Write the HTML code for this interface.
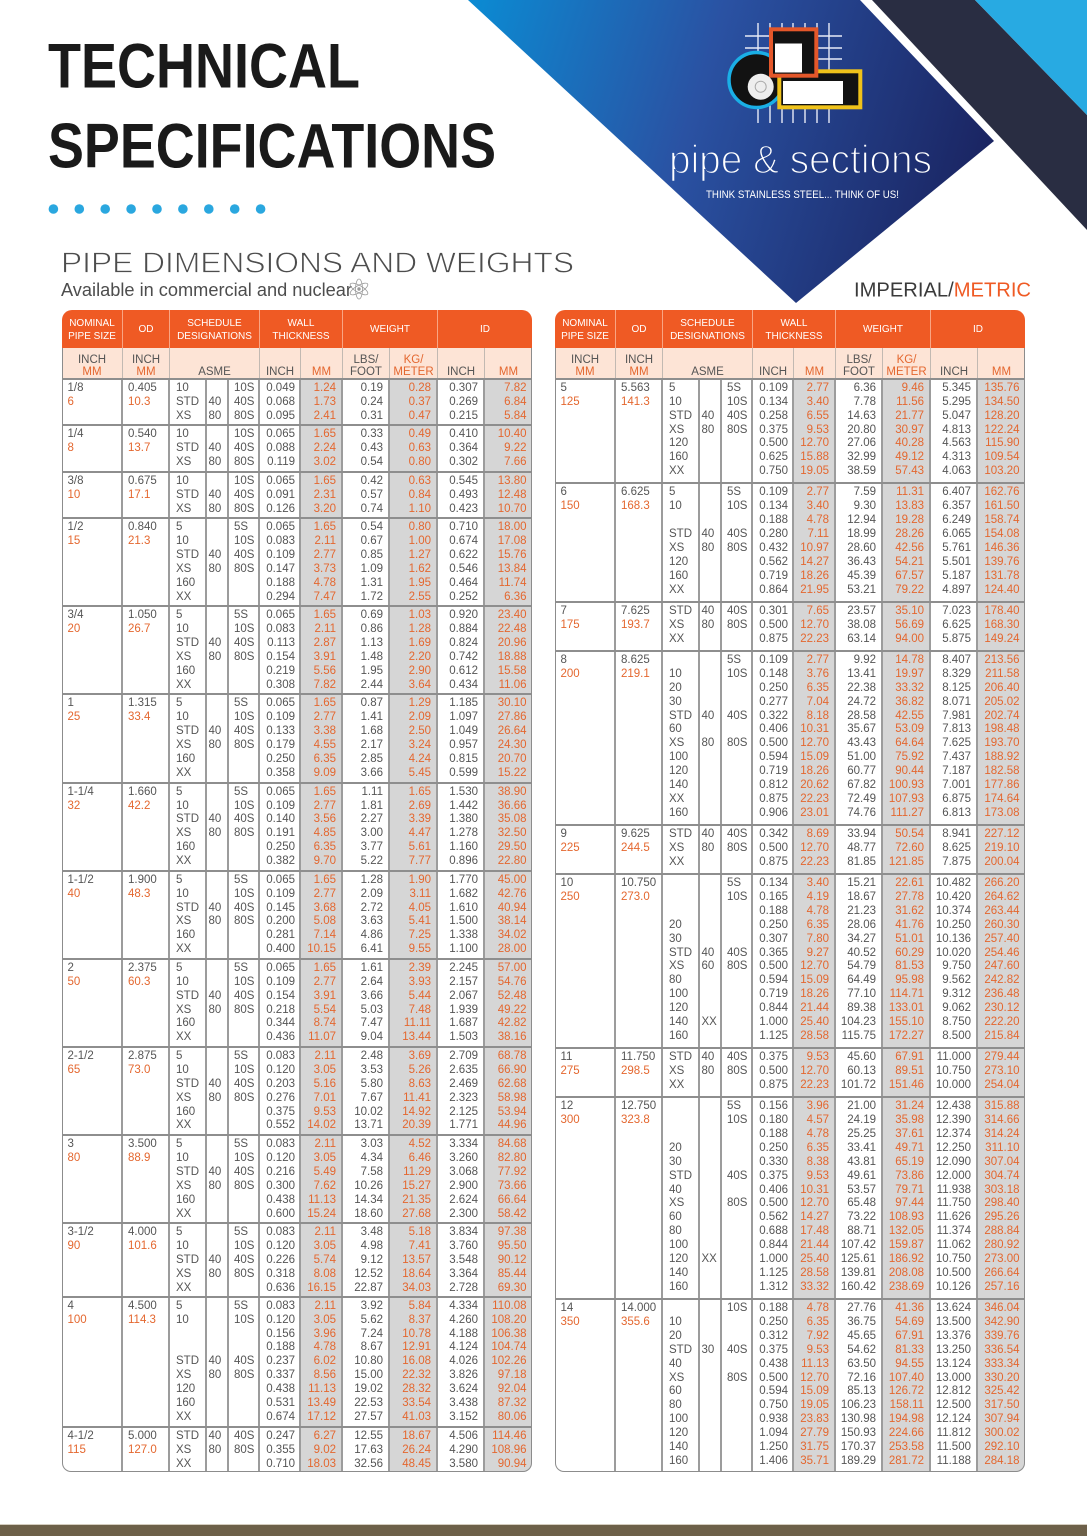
<!DOCTYPE html>
<html><head><meta charset="utf-8"><style>
*{margin:0;padding:0}
html,body{width:1087px;height:1536px;overflow:hidden;background:#fff}
body{position:relative;font-family:"Liberation Sans",Arial,sans-serif}
.t{position:absolute;top:310px;width:470px;height:1162.2px}
.hd{position:absolute;left:0;top:0;width:470px;height:38px;background:#ef5a24;border-radius:10px 10px 0 0}
.hd div{position:absolute;top:0;height:38px;padding-top:3px;box-sizing:border-box;display:flex;align-items:center;justify-content:center;text-align:center;color:#fff;font-size:10px;line-height:12.4px}
.hd div+div{border-left:1px solid rgba(255,215,195,.6)}
.sh{position:absolute;left:0;top:38px;width:470px;height:29.8px;background:#fde4d6}
.sh div{position:absolute;top:0;height:29.8px;padding-top:5.6px;box-sizing:border-box;text-align:center;font-size:11.5px;line-height:12.7px;color:#555}
.sh div+div{border-left:1px solid #c2b9b2}
em{font-style:normal;color:#e4672f}
.bd{position:absolute;top:67.8px;left:0;width:470px;height:1094.4px;overflow:hidden;border-radius:0 0 9px 9px}
.gr{position:absolute;top:0;height:100%;background:#d6d6d6}
.v{position:absolute;top:0;height:100%;width:1.2px;background:#9c9c9c;margin-left:-0.6px}
.g{position:absolute;left:0;width:470px;border-top:2px solid #8e8e8e}
.g div{position:absolute;top:2px;font-size:11.5px;line-height:13.9px;color:#555;white-space:nowrap}
.g .wm,.g .kg,.g .im{color:#e4672f}
.a{left:5.5px}.b{left:66px}.s1{left:114px}.s2{left:146.5px}.s3{left:172px}
.wi{right:237px;text-align:right}.wm{right:196px;text-align:right}.lb{right:149px;text-align:right}.kg{right:101px;text-align:right}.ii{right:54px;text-align:right}.im{right:5.5px;text-align:right}
.ob{position:absolute;left:0;top:38px;width:470px;height:1124.2px;border:1.5px solid #8c8c8c;border-top:0;border-radius:0 0 9px 9px;box-sizing:border-box}
</style></head><body>

<svg width="1087" height="310" viewBox="0 0 1087 310" style="position:absolute;left:0;top:0">
<defs>
<linearGradient id="bl" gradientUnits="userSpaceOnUse" x1="470" y1="0" x2="990" y2="160"><stop offset="0" stop-color="#0b8bd3"/><stop offset="0.45" stop-color="#2a52a3"/><stop offset="1" stop-color="#1a2461"/></linearGradient>
</defs>
<polygon points="468,0 860,0 994,141 796,303" fill="url(#bl)"/>
<polygon points="872,0 975,0 1087,115 1087,230" fill="#292d42"/>
<polygon points="975,0 1087,0 1087,115" fill="#28aae2"/>
<g stroke="#e8ebf7" stroke-width="1.4">
<line x1="758" y1="23" x2="758" y2="123"/><line x1="770" y1="23" x2="770" y2="123"/><line x1="782" y1="23" x2="782" y2="123"/><line x1="793" y1="23" x2="793" y2="123"/><line x1="805" y1="23" x2="805" y2="123"/><line x1="817" y1="23" x2="817" y2="123"/><line x1="829" y1="23" x2="829" y2="123"/>
<line x1="745" y1="36" x2="842" y2="36"/><line x1="745" y1="48" x2="842" y2="48"/><line x1="745" y1="59" x2="842" y2="59"/>
</g>
<circle cx="756.5" cy="80" r="27.5" fill="#121212" stroke="#1aafe6" stroke-width="3.5"/>
<rect x="779.3" y="71.3" width="81" height="36" fill="#121212" stroke="#efc21a" stroke-width="4"/>
<rect x="783" y="81" width="60" height="23" fill="#fff"/>
<rect x="771" y="29.3" width="45.3" height="46.4" fill="#121212" stroke="#e4572a" stroke-width="4"/>
<rect x="775" y="43.5" width="27" height="29" fill="#fff"/>
<circle cx="760.7" cy="86.7" r="13" fill="#eee"/>
<circle cx="760.7" cy="86.7" r="5.5" fill="none" stroke="#aaa" stroke-width="1"/>
<text x="669" y="173" font-family="Liberation Sans" font-size="40" fill="#fff" stroke="url(#bl)" stroke-width="1.5" textLength="263" lengthAdjust="spacingAndGlyphs">pipe &amp; sections</text>
<text x="706" y="198" font-family="Liberation Sans" font-size="11" fill="#fff" textLength="193" lengthAdjust="spacingAndGlyphs">THINK STAINLESS STEEL... THINK OF US!</text>
<text x="48" y="87.5" font-family="Liberation Sans" font-size="63" font-weight="bold" fill="#1a1a1a" textLength="312" lengthAdjust="spacingAndGlyphs">TECHNICAL</text>
<text x="48" y="167.7" font-family="Liberation Sans" font-size="63" font-weight="bold" fill="#1a1a1a" textLength="448" lengthAdjust="spacingAndGlyphs">SPECIFICATIONS</text>
<g fill="#2aa7df"><circle cx="53.4" cy="209" r="4.8"/><circle cx="79.3" cy="209" r="4.8"/><circle cx="105.2" cy="209" r="4.8"/><circle cx="131.1" cy="209" r="4.8"/><circle cx="157" cy="209" r="4.8"/><circle cx="182.9" cy="209" r="4.8"/><circle cx="208.8" cy="209" r="4.8"/><circle cx="234.7" cy="209" r="4.8"/><circle cx="260.6" cy="209" r="4.8"/></g>
<text x="61" y="272.7" font-family="Liberation Sans" font-size="28.4" fill="#4d4d4d" stroke="#fff" stroke-width="0.8" textLength="513" lengthAdjust="spacingAndGlyphs">PIPE DIMENSIONS AND WEIGHTS</text>
<text x="61" y="296" font-family="Liberation Sans" font-size="18" fill="#4d4d4d" textLength="291" lengthAdjust="spacingAndGlyphs">Available in commercial and nuclear</text>
<g transform="translate(359,289)" fill="none" stroke="#9a9a9a" stroke-width="0.8"><ellipse rx="3.5" ry="10"/><ellipse rx="3.5" ry="10" transform="rotate(60)"/><ellipse rx="3.5" ry="10" transform="rotate(-60)"/><circle r="1.3" fill="#9a9a9a"/></g>
<text x="854" y="296.7" font-family="Liberation Sans" font-size="20" textLength="177" lengthAdjust="spacingAndGlyphs"><tspan fill="#3a3a3a">IMPERIAL/</tspan><tspan fill="#ef5a24">METRIC</tspan></text>
</svg>

<!-- LEFT TABLE -->
<div class="t" style="left:62px">
<div class="hd">
<div style="left:0;width:60px">NOMINAL<br>PIPE SIZE</div>
<div style="left:60px;width:47px">OD</div>
<div style="left:107px;width:90px">SCHEDULE<br>DESIGNATIONS</div>
<div style="left:197px;width:83px">WALL<br>THICKNESS</div>
<div style="left:280px;width:95px">WEIGHT</div>
<div style="left:375px;width:95px">ID</div>
</div>
<div class="sh">
<div style="left:0;width:60px">INCH<br><em>MM</em></div>
<div style="left:60px;width:47px">INCH<br><em>MM</em></div>
<div style="left:107px;width:90px"><br>ASME</div>
<div style="left:197px;width:41px"><br>INCH</div>
<div style="left:238px;width:42px"><br><em>MM</em></div>
<div style="left:280px;width:47px">LBS/<br>FOOT</div>
<div style="left:327px;width:48px"><em>KG/<br>METER</em></div>
<div style="left:375px;width:47px"><br>INCH</div>
<div style="left:422px;width:48px"><br><em>MM</em></div>
</div>
<div class="bd">
<div class="gr" style="left:238px;width:42px"></div><div class="gr" style="left:327px;width:48px"></div><div class="gr" style="left:422px;width:48px"></div>
<div class="v" style="left:60px"></div><div class="v" style="left:107px"></div><div class="v" style="left:144px"></div><div class="v" style="left:166px"></div><div class="v" style="left:197px"></div><div class="v" style="left:238px"></div><div class="v" style="left:280px"></div><div class="v" style="left:327px"></div><div class="v" style="left:375px"></div><div class="v" style="left:422px"></div>

<div class="g" style="top:0"><div class="a">1/8<br><em>6</em></div><div class="b">0.405<br><em>10.3</em></div><div class="s1">10<br>STD<br>XS</div><div class="s2"><br>40<br>80</div><div class="s3">10S<br>40S<br>80S</div><div class="wi">0.049<br>0.068<br>0.095</div><div class="wm">1.24<br>1.73<br>2.41</div><div class="lb">0.19<br>0.24<br>0.31</div><div class="kg">0.28<br>0.37<br>0.47</div><div class="ii">0.307<br>0.269<br>0.215</div><div class="im">7.82<br>6.84<br>5.84</div></div>

<div class="g" style="top:46.5px"><div class="a">1/4<br><em>8</em></div><div class="b">0.540<br><em>13.7</em></div><div class="s1">10<br>STD<br>XS</div><div class="s2"><br>40<br>80</div><div class="s3">10S<br>40S<br>80S</div><div class="wi">0.065<br>0.088<br>0.119</div><div class="wm">1.65<br>2.24<br>3.02</div><div class="lb">0.33<br>0.43<br>0.54</div><div class="kg">0.49<br>0.63<br>0.80</div><div class="ii">0.410<br>0.364<br>0.302</div><div class="im">10.40<br>9.22<br>7.66</div></div>

<div class="g" style="top:93px"><div class="a">3/8<br><em>10</em></div><div class="b">0.675<br><em>17.1</em></div><div class="s1">10<br>STD<br>XS</div><div class="s2"><br>40<br>80</div><div class="s3">10S<br>40S<br>80S</div><div class="wi">0.065<br>0.091<br>0.126</div><div class="wm">1.65<br>2.31<br>3.20</div><div class="lb">0.42<br>0.57<br>0.74</div><div class="kg">0.63<br>0.84<br>1.10</div><div class="ii">0.545<br>0.493<br>0.423</div><div class="im">13.80<br>12.48<br>10.70</div></div>

<div class="g" style="top:139.5px"><div class="a">1/2<br><em>15</em></div><div class="b">0.840<br><em>21.3</em></div><div class="s1">5<br>10<br>STD<br>XS<br>160<br>XX</div><div class="s2"><br><br>40<br>80</div><div class="s3">5S<br>10S<br>40S<br>80S</div><div class="wi">0.065<br>0.083<br>0.109<br>0.147<br>0.188<br>0.294</div><div class="wm">1.65<br>2.11<br>2.77<br>3.73<br>4.78<br>7.47</div><div class="lb">0.54<br>0.67<br>0.85<br>1.09<br>1.31<br>1.72</div><div class="kg">0.80<br>1.00<br>1.27<br>1.62<br>1.95<br>2.55</div><div class="ii">0.710<br>0.674<br>0.622<br>0.546<br>0.464<br>0.252</div><div class="im">18.00<br>17.08<br>15.76<br>13.84<br>11.74<br>6.36</div></div>

<div class="g" style="top:227.6px"><div class="a">3/4<br><em>20</em></div><div class="b">1.050<br><em>26.7</em></div><div class="s1">5<br>10<br>STD<br>XS<br>160<br>XX</div><div class="s2"><br><br>40<br>80</div><div class="s3">5S<br>10S<br>40S<br>80S</div><div class="wi">0.065<br>0.083<br>0.113<br>0.154<br>0.219<br>0.308</div><div class="wm">1.65<br>2.11<br>2.87<br>3.91<br>5.56<br>7.82</div><div class="lb">0.69<br>0.86<br>1.13<br>1.48<br>1.95<br>2.44</div><div class="kg">1.03<br>1.28<br>1.69<br>2.20<br>2.90<br>3.64</div><div class="ii">0.920<br>0.884<br>0.824<br>0.742<br>0.612<br>0.434</div><div class="im">23.40<br>22.48<br>20.96<br>18.88<br>15.58<br>11.06</div></div>

<div class="g" style="top:315.7px"><div class="a">1<br><em>25</em></div><div class="b">1.315<br><em>33.4</em></div><div class="s1">5<br>10<br>STD<br>XS<br>160<br>XX</div><div class="s2"><br><br>40<br>80</div><div class="s3">5S<br>10S<br>40S<br>80S</div><div class="wi">0.065<br>0.109<br>0.133<br>0.179<br>0.250<br>0.358</div><div class="wm">1.65<br>2.77<br>3.38<br>4.55<br>6.35<br>9.09</div><div class="lb">0.87<br>1.41<br>1.68<br>2.17<br>2.85<br>3.66</div><div class="kg">1.29<br>2.09<br>2.50<br>3.24<br>4.24<br>5.45</div><div class="ii">1.185<br>1.097<br>1.049<br>0.957<br>0.815<br>0.599</div><div class="im">30.10<br>27.86<br>26.64<br>24.30<br>20.70<br>15.22</div></div>

<div class="g" style="top:403.8px"><div class="a">1-1/4<br><em>32</em></div><div class="b">1.660<br><em>42.2</em></div><div class="s1">5<br>10<br>STD<br>XS<br>160<br>XX</div><div class="s2"><br><br>40<br>80</div><div class="s3">5S<br>10S<br>40S<br>80S</div><div class="wi">0.065<br>0.109<br>0.140<br>0.191<br>0.250<br>0.382</div><div class="wm">1.65<br>2.77<br>3.56<br>4.85<br>6.35<br>9.70</div><div class="lb">1.11<br>1.81<br>2.27<br>3.00<br>3.77<br>5.22</div><div class="kg">1.65<br>2.69<br>3.39<br>4.47<br>5.61<br>7.77</div><div class="ii">1.530<br>1.442<br>1.380<br>1.278<br>1.160<br>0.896</div><div class="im">38.90<br>36.66<br>35.08<br>32.50<br>29.50<br>22.80</div></div>

<div class="g" style="top:491.9px"><div class="a">1-1/2<br><em>40</em></div><div class="b">1.900<br><em>48.3</em></div><div class="s1">5<br>10<br>STD<br>XS<br>160<br>XX</div><div class="s2"><br><br>40<br>80</div><div class="s3">5S<br>10S<br>40S<br>80S</div><div class="wi">0.065<br>0.109<br>0.145<br>0.200<br>0.281<br>0.400</div><div class="wm">1.65<br>2.77<br>3.68<br>5.08<br>7.14<br>10.15</div><div class="lb">1.28<br>2.09<br>2.72<br>3.63<br>4.86<br>6.41</div><div class="kg">1.90<br>3.11<br>4.05<br>5.41<br>7.25<br>9.55</div><div class="ii">1.770<br>1.682<br>1.610<br>1.500<br>1.338<br>1.100</div><div class="im">45.00<br>42.76<br>40.94<br>38.14<br>34.02<br>28.00</div></div>

<div class="g" style="top:580px"><div class="a">2<br><em>50</em></div><div class="b">2.375<br><em>60.3</em></div><div class="s1">5<br>10<br>STD<br>XS<br>160<br>XX</div><div class="s2"><br><br>40<br>80</div><div class="s3">5S<br>10S<br>40S<br>80S</div><div class="wi">0.065<br>0.109<br>0.154<br>0.218<br>0.344<br>0.436</div><div class="wm">1.65<br>2.77<br>3.91<br>5.54<br>8.74<br>11.07</div><div class="lb">1.61<br>2.64<br>3.66<br>5.03<br>7.47<br>9.04</div><div class="kg">2.39<br>3.93<br>5.44<br>7.48<br>11.11<br>13.44</div><div class="ii">2.245<br>2.157<br>2.067<br>1.939<br>1.687<br>1.503</div><div class="im">57.00<br>54.76<br>52.48<br>49.22<br>42.82<br>38.16</div></div>

<div class="g" style="top:668.1px"><div class="a">2-1/2<br><em>65</em></div><div class="b">2.875<br><em>73.0</em></div><div class="s1">5<br>10<br>STD<br>XS<br>160<br>XX</div><div class="s2"><br><br>40<br>80</div><div class="s3">5S<br>10S<br>40S<br>80S</div><div class="wi">0.083<br>0.120<br>0.203<br>0.276<br>0.375<br>0.552</div><div class="wm">2.11<br>3.05<br>5.16<br>7.01<br>9.53<br>14.02</div><div class="lb">2.48<br>3.53<br>5.80<br>7.67<br>10.02<br>13.71</div><div class="kg">3.69<br>5.26<br>8.63<br>11.41<br>14.92<br>20.39</div><div class="ii">2.709<br>2.635<br>2.469<br>2.323<br>2.125<br>1.771</div><div class="im">68.78<br>66.90<br>62.68<br>58.98<br>53.94<br>44.96</div></div>

<div class="g" style="top:756.2px"><div class="a">3<br><em>80</em></div><div class="b">3.500<br><em>88.9</em></div><div class="s1">5<br>10<br>STD<br>XS<br>160<br>XX</div><div class="s2"><br><br>40<br>80</div><div class="s3">5S<br>10S<br>40S<br>80S</div><div class="wi">0.083<br>0.120<br>0.216<br>0.300<br>0.438<br>0.600</div><div class="wm">2.11<br>3.05<br>5.49<br>7.62<br>11.13<br>15.24</div><div class="lb">3.03<br>4.34<br>7.58<br>10.26<br>14.34<br>18.60</div><div class="kg">4.52<br>6.46<br>11.29<br>15.27<br>21.35<br>27.68</div><div class="ii">3.334<br>3.260<br>3.068<br>2.900<br>2.624<br>2.300</div><div class="im">84.68<br>82.80<br>77.92<br>73.66<br>66.64<br>58.42</div></div>

<div class="g" style="top:844.3px"><div class="a">3-1/2<br><em>90</em></div><div class="b">4.000<br><em>101.6</em></div><div class="s1">5<br>10<br>STD<br>XS<br>XX</div><div class="s2"><br><br>40<br>80</div><div class="s3">5S<br>10S<br>40S<br>80S</div><div class="wi">0.083<br>0.120<br>0.226<br>0.318<br>0.636</div><div class="wm">2.11<br>3.05<br>5.74<br>8.08<br>16.15</div><div class="lb">3.48<br>4.98<br>9.12<br>12.52<br>22.87</div><div class="kg">5.18<br>7.41<br>13.57<br>18.64<br>34.03</div><div class="ii">3.834<br>3.760<br>3.548<br>3.364<br>2.728</div><div class="im">97.38<br>95.50<br>90.12<br>85.44<br>69.30</div></div>

<div class="g" style="top:917.9px"><div class="a">4<br><em>100</em></div><div class="b">4.500<br><em>114.3</em></div><div class="s1">5<br>10<br><br><br>STD<br>XS<br>120<br>160<br>XX</div><div class="s2"><br><br><br><br>40<br>80</div><div class="s3">5S<br>10S<br><br><br>40S<br>80S</div><div class="wi">0.083<br>0.120<br>0.156<br>0.188<br>0.237<br>0.337<br>0.438<br>0.531<br>0.674</div><div class="wm">2.11<br>3.05<br>3.96<br>4.78<br>6.02<br>8.56<br>11.13<br>13.49<br>17.12</div><div class="lb">3.92<br>5.62<br>7.24<br>8.67<br>10.80<br>15.00<br>19.02<br>22.53<br>27.57</div><div class="kg">5.84<br>8.37<br>10.78<br>12.91<br>16.08<br>22.32<br>28.32<br>33.54<br>41.03</div><div class="ii">4.334<br>4.260<br>4.188<br>4.124<br>4.026<br>3.826<br>3.624<br>3.438<br>3.152</div><div class="im">110.08<br>108.20<br>106.38<br>104.74<br>102.26<br>97.18<br>92.04<br>87.32<br>80.06</div></div>

<div class="g" style="top:1047.9px"><div class="a">4-1/2<br><em>115</em></div><div class="b">5.000<br><em>127.0</em></div><div class="s1">STD<br>XS<br>XX</div><div class="s2">40<br>80</div><div class="s3">40S<br>80S</div><div class="wi">0.247<br>0.355<br>0.710</div><div class="wm">6.27<br>9.02<br>18.03</div><div class="lb">12.55<br>17.63<br>32.56</div><div class="kg">18.67<br>26.24<br>48.45</div><div class="ii">4.506<br>4.290<br>3.580</div><div class="im">114.46<br>108.96<br>90.94</div></div>
</div>
<div class="ob"></div>
</div>

<!-- RIGHT TABLE -->
<div class="t" style="left:555px">
<div class="hd">
<div style="left:0;width:60px">NOMINAL<br>PIPE SIZE</div>
<div style="left:60px;width:47px">OD</div>
<div style="left:107px;width:90px">SCHEDULE<br>DESIGNATIONS</div>
<div style="left:197px;width:83px">WALL<br>THICKNESS</div>
<div style="left:280px;width:95px">WEIGHT</div>
<div style="left:375px;width:95px">ID</div>
</div>
<div class="sh">
<div style="left:0;width:60px">INCH<br><em>MM</em></div>
<div style="left:60px;width:47px">INCH<br><em>MM</em></div>
<div style="left:107px;width:90px"><br>ASME</div>
<div style="left:197px;width:41px"><br>INCH</div>
<div style="left:238px;width:42px"><br><em>MM</em></div>
<div style="left:280px;width:47px">LBS/<br>FOOT</div>
<div style="left:327px;width:48px"><em>KG/<br>METER</em></div>
<div style="left:375px;width:47px"><br>INCH</div>
<div style="left:422px;width:48px"><br><em>MM</em></div>
</div>
<div class="bd">
<div class="gr" style="left:238px;width:42px"></div><div class="gr" style="left:327px;width:48px"></div><div class="gr" style="left:422px;width:48px"></div>
<div class="v" style="left:60px"></div><div class="v" style="left:107px"></div><div class="v" style="left:144px"></div><div class="v" style="left:166px"></div><div class="v" style="left:197px"></div><div class="v" style="left:238px"></div><div class="v" style="left:280px"></div><div class="v" style="left:327px"></div><div class="v" style="left:375px"></div><div class="v" style="left:422px"></div>

<div class="g" style="top:0"><div class="a">5<br><em>125</em></div><div class="b">5.563<br><em>141.3</em></div><div class="s1">5<br>10<br>STD<br>XS<br>120<br>160<br>XX</div><div class="s2"><br><br>40<br>80</div><div class="s3">5S<br>10S<br>40S<br>80S</div><div class="wi">0.109<br>0.134<br>0.258<br>0.375<br>0.500<br>0.625<br>0.750</div><div class="wm">2.77<br>3.40<br>6.55<br>9.53<br>12.70<br>15.88<br>19.05</div><div class="lb">6.36<br>7.78<br>14.63<br>20.80<br>27.06<br>32.99<br>38.59</div><div class="kg">9.46<br>11.56<br>21.77<br>30.97<br>40.28<br>49.12<br>57.43</div><div class="ii">5.345<br>5.295<br>5.047<br>4.813<br>4.563<br>4.313<br>4.063</div><div class="im">135.76<br>134.50<br>128.20<br>122.24<br>115.90<br>109.54<br>103.20</div></div>

<div class="g" style="top:104.6px"><div class="a">6<br><em>150</em></div><div class="b">6.625<br><em>168.3</em></div><div class="s1">5<br>10<br><br>STD<br>XS<br>120<br>160<br>XX</div><div class="s2"><br><br><br>40<br>80</div><div class="s3">5S<br>10S<br><br>40S<br>80S</div><div class="wi">0.109<br>0.134<br>0.188<br>0.280<br>0.432<br>0.562<br>0.719<br>0.864</div><div class="wm">2.77<br>3.40<br>4.78<br>7.11<br>10.97<br>14.27<br>18.26<br>21.95</div><div class="lb">7.59<br>9.30<br>12.94<br>18.99<br>28.60<br>36.43<br>45.39<br>53.21</div><div class="kg">11.31<br>13.83<br>19.28<br>28.26<br>42.56<br>54.21<br>67.57<br>79.22</div><div class="ii">6.407<br>6.357<br>6.249<br>6.065<br>5.761<br>5.501<br>5.187<br>4.897</div><div class="im">162.76<br>161.50<br>158.74<br>154.08<br>146.36<br>139.76<br>131.78<br>124.40</div></div>

<div class="g" style="top:223.1px"><div class="a">7<br><em>175</em></div><div class="b">7.625<br><em>193.7</em></div><div class="s1">STD<br>XS<br>XX</div><div class="s2">40<br>80</div><div class="s3">40S<br>80S</div><div class="wi">0.301<br>0.500<br>0.875</div><div class="wm">7.65<br>12.70<br>22.23</div><div class="lb">23.57<br>38.08<br>63.14</div><div class="kg">35.10<br>56.69<br>94.00</div><div class="ii">7.023<br>6.625<br>5.875</div><div class="im">178.40<br>168.30<br>149.24</div></div>

<div class="g" style="top:272.1px"><div class="a">8<br><em>200</em></div><div class="b">8.625<br><em>219.1</em></div><div class="s1"><br>10<br>20<br>30<br>STD<br>60<br>XS<br>100<br>120<br>140<br>XX<br>160</div><div class="s2"><br><br><br><br>40<br><br>80</div><div class="s3">5S<br>10S<br><br><br>40S<br><br>80S</div><div class="wi">0.109<br>0.148<br>0.250<br>0.277<br>0.322<br>0.406<br>0.500<br>0.594<br>0.719<br>0.812<br>0.875<br>0.906</div><div class="wm">2.77<br>3.76<br>6.35<br>7.04<br>8.18<br>10.31<br>12.70<br>15.09<br>18.26<br>20.62<br>22.23<br>23.01</div><div class="lb">9.92<br>13.41<br>22.38<br>24.72<br>28.58<br>35.67<br>43.43<br>51.00<br>60.77<br>67.82<br>72.49<br>74.76</div><div class="kg">14.78<br>19.97<br>33.32<br>36.82<br>42.55<br>53.09<br>64.64<br>75.92<br>90.44<br>100.93<br>107.93<br>111.27</div><div class="ii">8.407<br>8.329<br>8.125<br>8.071<br>7.981<br>7.813<br>7.625<br>7.437<br>7.187<br>7.001<br>6.875<br>6.813</div><div class="im">213.56<br>211.58<br>206.40<br>205.02<br>202.74<br>198.48<br>193.70<br>188.92<br>182.58<br>177.86<br>174.64<br>173.08</div></div>

<div class="g" style="top:446.2px"><div class="a">9<br><em>225</em></div><div class="b">9.625<br><em>244.5</em></div><div class="s1">STD<br>XS<br>XX</div><div class="s2">40<br>80</div><div class="s3">40S<br>80S</div><div class="wi">0.342<br>0.500<br>0.875</div><div class="wm">8.69<br>12.70<br>22.23</div><div class="lb">33.94<br>48.77<br>81.85</div><div class="kg">50.54<br>72.60<br>121.85</div><div class="ii">8.941<br>8.625<br>7.875</div><div class="im">227.12<br>219.10<br>200.04</div></div>

<div class="g" style="top:495.2px"><div class="a">10<br><em>250</em></div><div class="b">10.750<br><em>273.0</em></div><div class="s1"><br><br><br>20<br>30<br>STD<br>XS<br>80<br>100<br>120<br>140<br>160</div><div class="s2"><br><br><br><br><br>40<br>60<br><br><br><br>XX</div><div class="s3">5S<br>10S<br><br><br><br>40S<br>80S</div><div class="wi">0.134<br>0.165<br>0.188<br>0.250<br>0.307<br>0.365<br>0.500<br>0.594<br>0.719<br>0.844<br>1.000<br>1.125</div><div class="wm">3.40<br>4.19<br>4.78<br>6.35<br>7.80<br>9.27<br>12.70<br>15.09<br>18.26<br>21.44<br>25.40<br>28.58</div><div class="lb">15.21<br>18.67<br>21.23<br>28.06<br>34.27<br>40.52<br>54.79<br>64.49<br>77.10<br>89.38<br>104.23<br>115.75</div><div class="kg">22.61<br>27.78<br>31.62<br>41.76<br>51.01<br>60.29<br>81.53<br>95.98<br>114.71<br>133.01<br>155.10<br>172.27</div><div class="ii">10.482<br>10.420<br>10.374<br>10.250<br>10.136<br>10.020<br>9.750<br>9.562<br>9.312<br>9.062<br>8.750<br>8.500</div><div class="im">266.20<br>264.62<br>263.44<br>260.30<br>257.40<br>254.46<br>247.60<br>242.82<br>236.48<br>230.12<br>222.20<br>215.84</div></div>

<div class="g" style="top:669.3px"><div class="a">11<br><em>275</em></div><div class="b">11.750<br><em>298.5</em></div><div class="s1">STD<br>XS<br>XX</div><div class="s2">40<br>80</div><div class="s3">40S<br>80S</div><div class="wi">0.375<br>0.500<br>0.875</div><div class="wm">9.53<br>12.70<br>22.23</div><div class="lb">45.60<br>60.13<br>101.72</div><div class="kg">67.91<br>89.51<br>151.46</div><div class="ii">11.000<br>10.750<br>10.000</div><div class="im">279.44<br>273.10<br>254.04</div></div>

<div class="g" style="top:718.3px"><div class="a">12<br><em>300</em></div><div class="b">12.750<br><em>323.8</em></div><div class="s1"><br><br><br>20<br>30<br>STD<br>40<br>XS<br>60<br>80<br>100<br>120<br>140<br>160</div><div class="s2"><br><br><br><br><br><br><br><br><br><br><br>XX</div><div class="s3">5S<br>10S<br><br><br><br>40S<br><br>80S</div><div class="wi">0.156<br>0.180<br>0.188<br>0.250<br>0.330<br>0.375<br>0.406<br>0.500<br>0.562<br>0.688<br>0.844<br>1.000<br>1.125<br>1.312</div><div class="wm">3.96<br>4.57<br>4.78<br>6.35<br>8.38<br>9.53<br>10.31<br>12.70<br>14.27<br>17.48<br>21.44<br>25.40<br>28.58<br>33.32</div><div class="lb">21.00<br>24.19<br>25.25<br>33.41<br>43.81<br>49.61<br>53.57<br>65.48<br>73.22<br>88.71<br>107.42<br>125.61<br>139.81<br>160.42</div><div class="kg">31.24<br>35.98<br>37.61<br>49.71<br>65.19<br>73.86<br>79.71<br>97.44<br>108.93<br>132.05<br>159.87<br>186.92<br>208.08<br>238.69</div><div class="ii">12.438<br>12.390<br>12.374<br>12.250<br>12.090<br>12.000<br>11.938<br>11.750<br>11.626<br>11.374<br>11.062<br>10.750<br>10.500<br>10.126</div><div class="im">315.88<br>314.66<br>314.24<br>311.10<br>307.04<br>304.74<br>303.18<br>298.40<br>295.26<br>288.84<br>280.92<br>273.00<br>266.64<br>257.16</div></div>

<div class="g" style="top:920.2px"><div class="a">14<br><em>350</em></div><div class="b">14.000<br><em>355.6</em></div><div class="s1"><br>10<br>20<br>STD<br>40<br>XS<br>60<br>80<br>100<br>120<br>140<br>160</div><div class="s2"><br><br><br>30</div><div class="s3">10S<br><br><br>40S<br><br>80S</div><div class="wi">0.188<br>0.250<br>0.312<br>0.375<br>0.438<br>0.500<br>0.594<br>0.750<br>0.938<br>1.094<br>1.250<br>1.406</div><div class="wm">4.78<br>6.35<br>7.92<br>9.53<br>11.13<br>12.70<br>15.09<br>19.05<br>23.83<br>27.79<br>31.75<br>35.71</div><div class="lb">27.76<br>36.75<br>45.65<br>54.62<br>63.50<br>72.16<br>85.13<br>106.23<br>130.98<br>150.93<br>170.37<br>189.29</div><div class="kg">41.36<br>54.69<br>67.91<br>81.33<br>94.55<br>107.40<br>126.72<br>158.11<br>194.98<br>224.66<br>253.58<br>281.72</div><div class="ii">13.624<br>13.500<br>13.376<br>13.250<br>13.124<br>13.000<br>12.812<br>12.500<br>12.124<br>11.812<br>11.500<br>11.188</div><div class="im">346.04<br>342.90<br>339.76<br>336.54<br>333.34<br>330.20<br>325.42<br>317.50<br>307.94<br>300.02<br>292.10<br>284.18</div></div>
</div>
<div class="ob"></div>
</div>

<div style="position:absolute;left:0;top:1524px;width:1087px;height:1px;background:#d4cdbf"></div>
<div style="position:absolute;left:0;top:1525px;width:1087px;height:11px;background:#6d6049"></div>
</body></html>
